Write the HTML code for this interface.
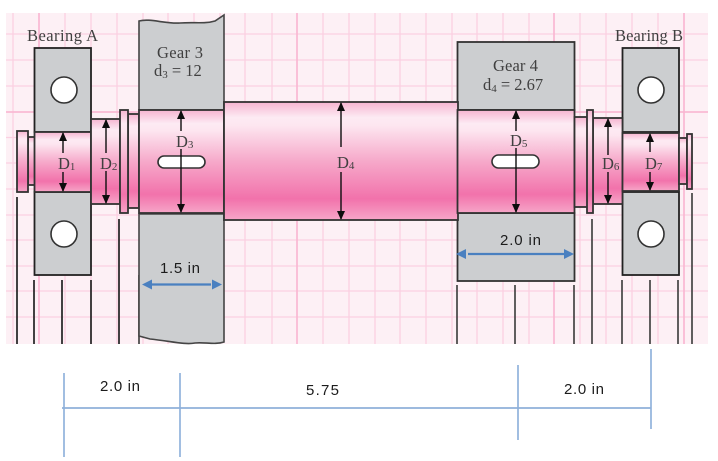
<!DOCTYPE html>
<html><head><meta charset="utf-8"><style>
html,body{margin:0;padding:0;background:#fff;width:718px;height:461px;overflow:hidden}
svg{display:block}
.s{font-family:"Liberation Serif",serif;fill:#3f3f3f}
.c{font-family:"Liberation Sans",sans-serif;fill:#1c1c1c;font-size:15px}
</style></head><body>
<svg width="718" height="461" viewBox="0 0 718 461" xmlns="http://www.w3.org/2000/svg">
<defs>
<linearGradient id="g" x1="0" y1="0" x2="0" y2="1">
<stop offset="0" stop-color="#f6b4d0"/><stop offset=".13" stop-color="#fdeaf3"/><stop offset=".2" stop-color="#fde6f0"/><stop offset=".5" stop-color="#f6a9ca"/><stop offset=".82" stop-color="#f272ab"/><stop offset="1" stop-color="#f6a6c8"/>
</linearGradient>
<filter id="b" x="-2%" y="-2%" width="104%" height="104%"><feGaussianBlur stdDeviation="0.35"/></filter>
<marker id="ah" markerWidth="10" markerHeight="10" refX="8" refY="4" orient="auto-start-reverse" markerUnits="userSpaceOnUse"><path d="M0 0L9 4L0 8Z" fill="#111"/></marker>
</defs>
<g filter="url(#b)">
<rect x="6" y="13" width="702" height="331" fill="#fdf0f5"/>
<g stroke="#fbd0e2" stroke-width="1.3">
<path d="M6 34H708M6 60H708M6 86H708M6 112H708M6 137.500H708M6 163H708M6 189H708M6 215H708M6 240H708M6 266H708M6 291H708M6 317H708"/>
<path d="M13 13V344M39 13V344M65 13V344M91 13V344M117 13V344M143 13V344M168 13V344M194 13V344M220 13V344M245 13V344M272 13V344M297 13V344M323 13V344M349 13V344M375 13V344M400 13V344M426 13V344M452 13V344M477 13V344M503 13V344M529 13V344M554 13V344M580 13V344M606 13V344M632 13V344M658 13V344M684 13V344"/>
</g>
<g stroke="#f9b4d0" stroke-width="1.5"><path d="M6 112H708M39 13V344M297 13V344M554 13V344M684 13V344"/></g>

<!-- extension lines -->
<g stroke="#222" stroke-width="1.7" fill="none">
<path d="M17 197V344M34 280V344M62 280V344M91 280V344M119 219V344"/>
<path d="M139 275V344M457 285V344M515 285V344M574 285V344M592 219V344M622 280V344M650 280V344M678 280V344M692 193V344" stroke="#444"/>
</g>

<!-- gears -->
<path d="M139 21C150 18 165 24 180 23C195 22 205 24 215 21L224 15V110H139Z" fill="#ccced0" stroke="#444" stroke-width="1.6"/>
<path d="M139 214H224V342C215 345 205 342 195 343C185 345 170 341 150 339L139 336Z" fill="#ccced0" stroke="#444" stroke-width="1.6"/>
<rect x="457.500" y="42" width="117" height="68" fill="#ccced0" stroke="#333" stroke-width="1.8"/>
<rect x="457.500" y="213" width="117" height="68" fill="#ccced0" stroke="#333" stroke-width="1.8"/>

<!-- bearings -->
<rect x="34.500" y="48" width="56.500" height="84" fill="#ccced0" stroke="#222" stroke-width="1.8"/>
<rect x="34.500" y="192" width="56.500" height="83" fill="#ccced0" stroke="#222" stroke-width="1.8"/>
<rect x="622.500" y="48" width="56.500" height="84" fill="#ccced0" stroke="#222" stroke-width="1.8"/>
<rect x="622.500" y="192" width="56.500" height="83" fill="#ccced0" stroke="#222" stroke-width="1.8"/>
<g fill="#fff" stroke="#333" stroke-width="1.6">
<circle cx="64" cy="90" r="13"/><circle cx="64" cy="234" r="13"/>
<circle cx="651" cy="90" r="13"/><circle cx="651" cy="234" r="13"/>
</g>

<!-- shaft -->
<g fill="url(#g)" stroke="#333" stroke-width="1.8">
<rect x="28" y="137" width="7" height="48"/>
<rect x="17" y="131" width="11" height="61"/>
<rect x="34.500" y="132" width="56.500" height="60"/>
<rect x="91" y="119" width="29" height="85"/>
<rect x="128" y="114" width="11" height="94"/>
<rect x="120" y="110" width="8" height="103"/>
<rect x="139" y="110" width="85" height="103"/>
<rect x="224" y="102" width="234" height="118"/>
<rect x="457.500" y="110" width="117" height="103"/>
<rect x="574.500" y="117" width="13" height="90"/>
<rect x="593" y="118" width="29.500" height="86"/>
<rect x="587" y="110" width="6" height="103"/>
<rect x="622.500" y="133" width="56.500" height="58"/>
<rect x="679" y="138" width="8" height="46"/>
<rect x="687" y="134" width="5" height="55"/>
</g>

<!-- keyways -->
<rect x="158" y="156" width="47" height="12" rx="6" fill="#fff" stroke="#333" stroke-width="1.6"/>
<rect x="492" y="155" width="47" height="13" rx="6.500" fill="#fff" stroke="#333" stroke-width="1.6"/>

<!-- dimension arrows -->
<g stroke="#111" stroke-width="1.4" fill="none">
<path d="M63 133V153" marker-start="url(#ah)"/>
<path d="M63 191V172" marker-start="url(#ah)"/>
<path d="M106 120V153" marker-start="url(#ah)"/>
<path d="M106 203V171" marker-start="url(#ah)"/>
<path d="M181 111V131" marker-start="url(#ah)"/>
<path d="M181 212V149" marker-start="url(#ah)"/>
<path d="M341 103V147" marker-start="url(#ah)"/>
<path d="M341 219V172" marker-start="url(#ah)"/>
<path d="M516 111V131" marker-start="url(#ah)"/>
<path d="M516 212V148" marker-start="url(#ah)"/>
<path d="M608 119V155" marker-start="url(#ah)"/>
<path d="M608 203V172" marker-start="url(#ah)"/>
<path d="M650 134V152" marker-start="url(#ah)"/>
<path d="M650 190V172" marker-start="url(#ah)"/>
</g>

<!-- serif labels -->
<g class="s" font-size="16.500">
<text x="27" y="41" textLength="71">Bearing A</text>
<text x="615" y="41" textLength="68">Bearing B</text>
<text x="157" y="58" textLength="46">Gear 3</text>
<text x="154" y="76">d<tspan font-size="11" dy="2">3</tspan><tspan dy="-2"> = 12</tspan></text>
<text x="493" y="71" textLength="45">Gear 4</text>
<text x="483" y="90">d<tspan font-size="11" dy="2">4</tspan><tspan dy="-2"> = 2.67</tspan></text>
</g>
<g class="s" font-size="16.500">
<text x="58" y="169">D<tspan font-size="11" dy="1">1</tspan></text>
<text x="100" y="169">D<tspan font-size="11" dy="1">2</tspan></text>
<text x="176" y="147">D<tspan font-size="11" dy="1">3</tspan></text>
<text x="337" y="168">D<tspan font-size="11" dy="1">4</tspan></text>
<text x="510" y="146">D<tspan font-size="11" dy="1">5</tspan></text>
<text x="602" y="169">D<tspan font-size="11" dy="1">6</tspan></text>
<text x="645" y="169">D<tspan font-size="11" dy="1">7</tspan></text>
</g>
</g>

<!-- blue overlay -->
<g stroke="#6f9bd1" stroke-width="1.3" fill="none">
<path d="M64 373V457M180 373V457M518 365V440M651 349V429"/>
<path d="M62 408H651" stroke="#8fb0da" stroke-width="1.8"/>
</g>
<g stroke="#4a80c0" stroke-width="2.2" fill="none">
<path d="M152 284.500H211"/><path d="M468 254H564"/>
</g>
<path d="M142 284.500L152 279.500V289.500Z M222 284.500L212 279.500V289.500Z M456 254L466 249V259Z M574 254L564 249V259Z" fill="#4a80c0"/>
<g class="c">
<text x="160" y="273" textLength="40">1.5 in</text>
<text x="500" y="245" textLength="41">2.0 in</text>
<text x="100" y="391" textLength="40">2.0 in</text>
<text x="306" y="395" textLength="33">5.75</text>
<text x="564" y="394" textLength="40">2.0 in</text>
</g>
</svg>
</body></html>
